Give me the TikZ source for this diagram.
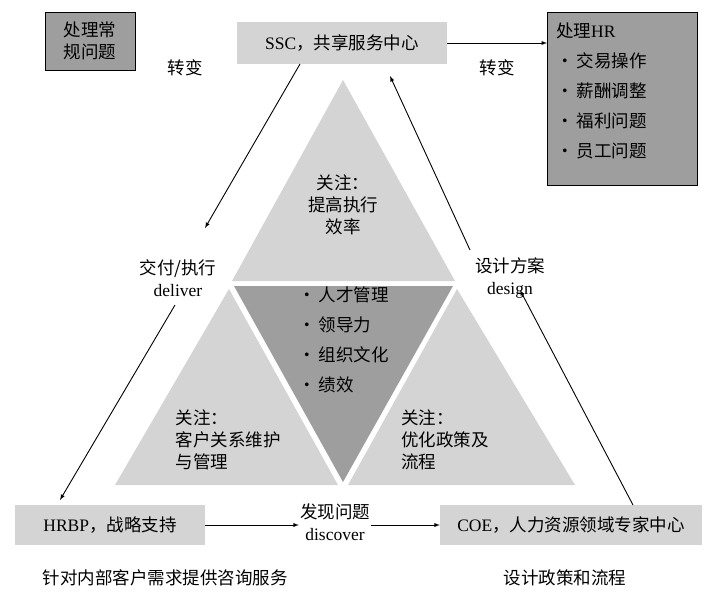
\documentclass[tikz,border=0pt]{standalone}
\usepackage{fontspec}
\setmainfont{Noto Sans CJK SC}
\newfontfamily\lat{Liberation Serif}
\begin{document}
\begin{tikzpicture}[x=1pt,y=-1pt,font=\fontsize{17.5}{22}\selectfont,
 dark/.style={draw=black,fill=black!38,line width=0.8pt},
 light/.style={fill=black!17},
 arr/.style={-latex,line width=0.9pt},
 lbl/.style={align=center,inner sep=1pt}]
\useasboundingbox (0,0) rectangle (709,600);
% triangles
\fill[black!17] (343,80) -- (232,281) -- (455,281) -- cycle;
\fill[black!38] (234,286) -- (453,286) -- (343,482) -- cycle;
\fill[black!17] (229,289) -- (115,485) -- (338,485) -- cycle;
\fill[black!17] (457,289) -- (575,485) -- (348,485) -- cycle;
% boxes
\node[dark,minimum width=90,minimum height=58,lbl] (pl) at (90,41) {处理常\\规问题};
\node[light,minimum width=210,minimum height=42] (ssc) at (342,43) {{\lat SSC}，共享服务中心};
\node[dark,minimum width=150,minimum height=173,anchor=north west,inner sep=0pt] (hr) at (547,12) {};
\node[anchor=north west,align=left,inner sep=0pt,font=\fontsize{17.5}{30}\selectfont] (hrt) at (556,23) {处理{\lat HR}\\ ·\,交易操作\\ ·\,薪酬调整\\ ·\,福利问题\\ ·\,员工问题};
\node (z1) at (185,68) {转变};
\node (z2) at (497,68) {转变};
\node[light,minimum width=190,minimum height=40] (hrbp) at (110,525) {{\lat HRBP}，战略支持};
\node[light,minimum width=262,minimum height=40] (coe) at (571,525) {{\lat COE}，人力资源领域专家中心};
\node[lbl] (disc) at (335,522) {发现问题\\{\lat discover}};
\node[lbl] (del) at (178,278) {交付/执行\\{\lat deliver}};
\node[lbl] (des) at (510,278) {设计方案\\{\lat design}};
\node[lbl] (t1) at (343,205) {关注：\\提高执行\\效率};
\node[anchor=north west,align=left,inner sep=0pt,font=\fontsize{17.5}{30}\selectfont] (t2) at (298,287) {·\,人才管理\\ ·\,领导力\\ ·\,组织文化\\ ·\,绩效};
\node[align=left] (t3) at (228,440) {关注：\\客户关系维护\\与管理};
\node[align=left] (t4) at (445,440) {关注：\\优化政策及\\流程};
\node (b1) at (165,578) {针对内部客户需求提供咨询服务};
\node (b2) at (565,578) {设计政策和流程};
% arrows
\coordinate (a1) at (300,64); \coordinate (a2) at (205,228);
\draw[arr] (a1) -- (a2);
\coordinate (a3) at (175,305); \coordinate (a4) at (60,500);
\draw[arr] (a3) -- (a4);
\draw[arr] (hrbp.east) -- (disc.west |- hrbp.east);
\draw[arr] (disc.east |- coe.west) -- (coe.west);
\coordinate (a5) at (633,505); \coordinate (a6) at (520,290);
\draw[arr] (a5) -- (a6);
\coordinate (a7) at (470,250); \coordinate (a8) at (390,76);
\draw[arr] (a7) -- (a8);
\draw[arr] (ssc.east) -- (hr.west |- ssc.east);
\end{tikzpicture}
\end{document}
